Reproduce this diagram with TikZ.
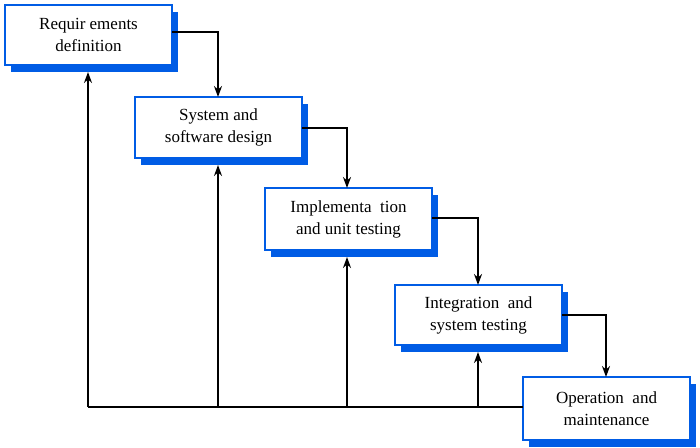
\documentclass[tikz,border=0pt]{standalone}
\usepackage{fontspec}
\setmainfont{Liberation Serif}
\usetikzlibrary{arrows.meta}
\begin{document}
\begin{tikzpicture}[x=1pt,y=-1pt,
  conn/.style={line width=2pt,-{Stealth[length=11pt,width=8pt]}},
  lbl/.style={font=\fontsize{17}{22}\selectfont,align=center}]
\useasboundingbox (0,0) rectangle (700,447);
\newcommand\wbox[5]{%
  \fill[blue!60!cyan!90!black] (#1+6,#2+7) rectangle (#3+6,#4+7);
  \draw[white,line width=1.5pt,fill=white] (#1,#2) rectangle (#3,#4);
  \draw[blue!60!cyan!90!black,line width=2.5pt,fill=white] (#1,#2) rectangle (#3,#4);
  \node[lbl] (#5) at ({(#1+#3)/2},{(#2+#4)/2}) {};
  \coordinate (#5w) at (#1,{(#2+#4)/2});
}
\wbox{5}{5}{172}{65}{b1}
\wbox{135}{97}{302}{158}{b2}
\wbox{265}{188}{432}{250}{b3}
\wbox{395}{285}{562}{345}{b4}
\wbox{523}{377}{690}{440}{b5}
\node[lbl] (t1) at (b1) {Requir ements\\definition};
\node[lbl] (t2) at (b2) {System and\\software design};
\node[lbl] (t3) at (b3) {Implementa\ \ tion\\and unit testing};
\node[lbl] (t4) at (b4) {Integration\ \ and\\system testing};
\node[lbl] (t5) at (b5) {Operation\ \ and\\maintenance};
\coordinate (a1) at (172,32); \coordinate (e1) at (218,97);
\coordinate (a2) at (302,128); \coordinate (e2) at (347,188);
\coordinate (a3) at (432,218); \coordinate (e3) at (478,285);
\coordinate (a4) at (562,315); \coordinate (e4) at (606,377);
\draw[conn] (a1) -| (e1);
\draw[conn] (a2) -| (e2);
\draw[conn] (a3) -| (e3);
\draw[conn] (a4) -| (e4);
\coordinate (f0) at (523,407);
\coordinate (f1) at (88,407);
\draw[line width=2pt] (f0) -- (f1);
\draw[conn] (f1) -- (88,72);
\draw[conn] (218,407) -- (218,165);
\draw[conn] (347,407) -- (347,257);
\draw[conn] (478,407) -- (478,352);
\end{tikzpicture}
\end{document}
